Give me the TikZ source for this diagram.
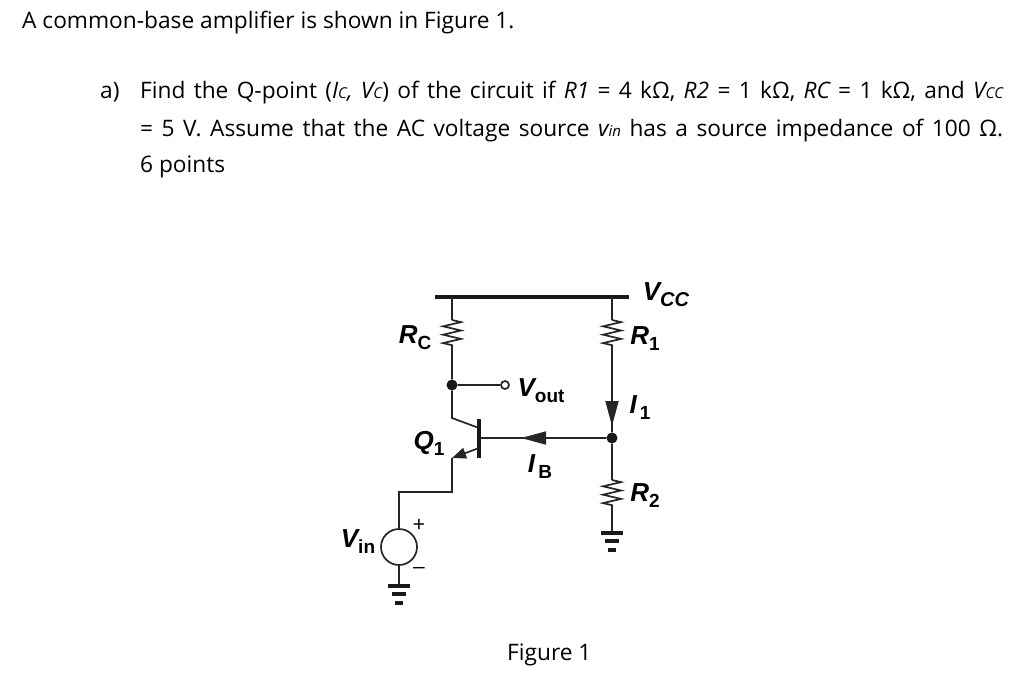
\documentclass[tikz,border=0pt]{standalone}
\usepackage{fontspec}
\setmainfont{Open Sans}
\newfontfamily\labelfont{Liberation Sans}
\usetikzlibrary{arrows.meta,decorations.pathmorphing}
\tikzset{
  para/.style={anchor=base west,inner sep=0pt,font=\fontsize{22.7}{26}\selectfont},
  lab/.style={inner sep=0pt,font=\labelfont\bfseries\itshape\fontsize{26}{28}\selectfont},
  res/.style={decorate,decoration={zigzag,segment length=8.4pt,amplitude=9pt}},
  wire/.style={line width=1.7pt,color=black!85},
  dot/.style={circle,fill=black!90,inner sep=0pt,minimum size=11pt}
}
\newcommand{\subi}[1]{{\fontsize{15}{15}\selectfont #1}}
\newcommand{\subup}[1]{\raisebox{-6pt}{\upshape\fontsize{19}{20}\selectfont #1}}
\newcommand{\subit}[1]{\raisebox{-6pt}{\fontsize{20}{20}\selectfont #1}}
\newcommand{\gndsym}[1]{
  \fill[black!90] ([shift={(-11,-2)}]#1) rectangle ([shift={(11,2)}]#1);
  \fill[black!90] ([shift={(-7,6)}]#1) rectangle ([shift={(7,10)}]#1);
  \fill[black!90] ([shift={(-4,15)}]#1) rectangle ([shift={(4,19)}]#1);
}
\begin{document}
\begin{tikzpicture}[x=1pt,y=-1pt]
  \useasboundingbox (0,0) rectangle (1024,682);
  % text
  \node[para] (title) at (22,29) {A common-base amplifier is shown in Figure 1.};
  \node[para] (item) at (100,99) {a)};
  \node[para] (l1) at (140,99) {\makebox[863pt][s]{Find the Q-point ({\itshape I\subi{C}, V\subi{C}}) of the circuit if {\itshape R1} = 4 kΩ, {\itshape R2} = 1 kΩ, {\itshape RC} = 1 kΩ, and {\itshape V\subi{CC}}}};
  \node[para] (l2) at (140,136) {\makebox[863pt][s]{= 5 V. Assume that the AC voltage source {\itshape v\subi{in}} has a source impedance of 100 Ω.}};
  \node[para] (l3) at (140,172) {6 points};
  \node[para] (fig) at (507,660) {Figure 1};
  % supply
  \coordinate (vccl) at (435,297);
  \coordinate (vccr) at (629,297);
  \draw[line width=4.5pt,black!90] (vccl) -- (vccr);
  \coordinate (rct) at (452,297);
  \coordinate (rca) at (452,320);
  \coordinate (rcb) at (452,347);
  \coordinate (r1t) at (612,297);
  \coordinate (r1a) at (612,320);
  \coordinate (r1b) at (612,347);
  \coordinate (r2a) at (612,480);
  \coordinate (r2b) at (612,506);
  \coordinate (coll) at (452,418);
  \coordinate (cbar) at (479,428);
  \coordinate (ebar) at (479,448);
  \coordinate (emit) at (452,458);
  \coordinate (ecor) at (452,492);
  \coordinate (scor) at (399,492);
  \coordinate (gnd1) at (399,586);
  \coordinate (gnd2) at (612,533);
  \coordinate (bart) at (479,419);
  \coordinate (barb) at (479,458);
  \coordinate (base) at (479,438);
  \node[dot] (nc) at (452,385) {};
  \node[dot] (nb) at (612,438) {};
  \node[circle,draw,wire,fill=white,inner sep=0pt,minimum size=8pt] (out) at (505,385) {};
  \node[circle,draw,wire,inner sep=0pt,minimum size=36pt] (vin) at (399,547) {};
  % wires
  \path[draw,wire]
        (rct) -- (rca)
        (rcb) -- (nc)
        (nc) -- (out)
        (nc) -- (coll) -- (cbar)
        (r1t) -- (r1a)
        (r1b) -- (nb)
        (nb) -- (r2a)
        (r2b) -- (gnd2)
        (nb) -- (base)
        (emit) -- (ecor) -- (scor) -- (vin.north)
        (vin.south) -- (gnd1);
  \draw[wire,res] (rca) -- (rcb);
  \draw[wire,res] (r1a) -- (r1b);
  \draw[wire,res] (r2a) -- (r2b);
  \draw[line width=3.5pt,black!90] (bart) -- (barb);
  % arrows
  \coordinate (i1a) at (612,390);
  \coordinate (i1b) at (612,426);
  \coordinate (iba) at (560,438);
  \coordinate (ibb) at (521,438);
  \draw[wire,-{Triangle[length=25pt,width=13pt]}] (i1a) -- (i1b);
  \draw[wire,-{Triangle[length=25pt,width=13pt]}] (iba) -- (ibb);
  \draw[wire,-{Triangle[length=14pt,width=11pt]}] (ebar) -- (emit);
  \gndsym{gnd1}
  \gndsym{gnd2}
  % labels
  \node[lab] (vcc) at (666,295) {V\subit{CC}};
  \node[lab] (rc) at (415,338) {R\subup{C}};
  \node[lab] (r1) at (645,339) {R\subup{1}};
  \node[lab] (r2) at (645,496) {R\subup{2}};
  \node[lab] (q1) at (429,443) {Q\subup{1}};
  \node[lab] (vo) at (541,391) {V\subup{out}};
  \node[lab] (i1) at (640,408) {I\subup{\,1}};
  \node[lab] (ib) at (540,467) {I\subup{\,B}};
  \node[lab] (vi) at (358,542) {V\subup{in}};
  \node[inner sep=0pt,font=\labelfont\fontsize{21}{22}\selectfont] (plus) at (419,525) {+};
  \node[inner sep=0pt,font=\labelfont\fontsize{21}{22}\selectfont] (minus) at (419,570) {–};
\end{tikzpicture}
\end{document}
